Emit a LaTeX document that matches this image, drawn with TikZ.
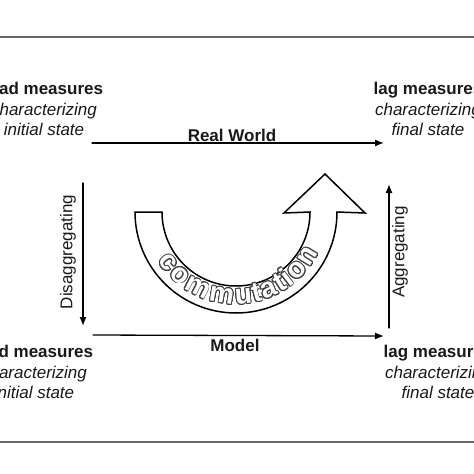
\documentclass[tikz,border=0pt]{standalone}
\usepackage{fontspec}
\setmainfont{Liberation Sans}
\usepackage[copies]{contour}
\usetikzlibrary{arrows.meta}
\contourlength{0.9pt}
% 空心字母
\newcommand\commchar[1]{\contour{black!75}{\textcolor{white}{#1}}}

\begin{document}
\begin{tikzpicture}[
    x=1pt, y=1pt,
    every node/.style={font=\fontsize{17}{20.5}\selectfont, text=black!90},
    corner/.style={align=center, inner sep=0pt},
    flow/.style={line width=1.3pt, line cap=round, -{Latex[length=9pt,width=7pt]}},
    band/.style={line width=1.5pt, fill=white},
    rule/.style={line width=1.5pt, draw=black!60},
    letter/.style={anchor=base, inner sep=0pt, font=\fontsize{28}{28}\bfseries\selectfont}
  ]
    % 画布与裁剪
    \path[use as bounding box] (0,0) rectangle (474,-474);
    \clip (0,0) rectangle (474,-474);
    % 上下两条边框线
    \draw[rule] (0,-37) -- (474,-37);
    \draw[rule] (0,-442) -- (474,-442);

    % 四个角的说明文字
    \node[corner] (leadtop) at (44,-109) {\textbf{lead measures}\\\textit{characterizing}\\\textit{initial state}};
    \node[corner] (lagtop) at (428,-109) {\textbf{lag measures}\\\textit{characterizing}\\\textit{final state}};
    \node[corner] (leadbot) at (34,-372) {\textbf{lead measures}\\\textit{characterizing}\\\textit{initial state}};
    \node[corner] (lagbot) at (438,-372) {\textbf{lag measures}\\\textit{characterizing}\\\textit{final state}};

    % 箭头端点
    \coordinate (rw-a) at (92,-143);
    \coordinate (rw-b) at (384,-143);
    \coordinate (md-a) at (93,-335);
    \coordinate (md-b) at (384,-336);
    \coordinate (dis-a) at (83,-183);
    \coordinate (dis-b) at (83,-326);
    \coordinate (agg-a) at (389,-328);
    \coordinate (agg-b) at (389,-184);

    % 四条箭头
    \draw[flow] (rw-a) -- (rw-b);
    \draw[flow] (md-a) -- (md-b);
    \draw[flow] (dis-a) -- (dis-b);
    \draw[flow] (agg-a) -- (agg-b);

    % 箭头标签
    \node (realworld) at (232,-135) {\textbf{Real World}};
    \node (model) at (235,-345) {\textbf{Model}};
    \node[rotate=90] (disagg) at (68,-252) {Disaggregating};
    \node[rotate=90] (agg) at (400,-252) {Aggregating};

    % 弯曲的大箭头
    \coordinate (cc) at (236,-212);
    \draw[band] (135,-212) arc[start angle=180, end angle=360, radius=101]
      -- (365,-213) -- (325,-174) -- (284,-213) -- (310,-212)
      arc[start angle=0, end angle=-180, radius=74] -- cycle;

    % 沿弧排列的文字
    \begin{scope}[shift={(cc)}]
      \foreach \ch/\ang in {c/216.8, o/228.3, m/242.9, m/260.3, u/275.0, t/284.2,
                            a/292.9, t/301.6, i/307.6, o/316.3, n/328.2}
        \node[letter, rotate=\ang+90] at (\ang:92) {\commchar{\ch}};
    \end{scope}
\end{tikzpicture}
\end{document}
